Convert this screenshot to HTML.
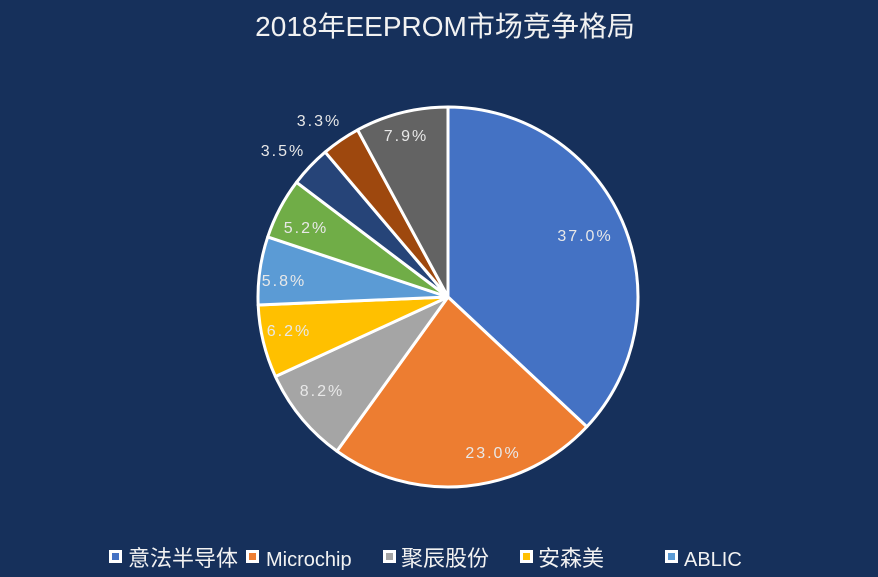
<!DOCTYPE html>
<html><head><meta charset="utf-8"><style>
body{margin:0;width:878px;height:572px;background:#16305b;overflow:hidden;font-family:"Liberation Sans","Noto Sans CJK SC",sans-serif}
</style></head><body>
<svg id="s" width="878" height="572" xmlns="http://www.w3.org/2000/svg">
<rect width="878" height="572" fill="#16305b"/>
<text x="445" y="36" text-anchor="middle" fill="#f2f2f2" font-size="28" font-family="Liberation Sans, Noto Sans CJK SC, sans-serif">2018年EEPROM市场竞争格局</text>
<g id="pie"></g>
<g fill="#e8e8e8" font-size="16" letter-spacing="2" text-anchor="middle" font-family="Liberation Sans, sans-serif">
<text x="585" y="241">37.0%</text>
<text x="493" y="458">23.0%</text>
<text x="322" y="396">8.2%</text>
<text x="289" y="336">6.2%</text>
<text x="284" y="286">5.8%</text>
<text x="306" y="233">5.2%</text>
<text x="283" y="156">3.5%</text>
<text x="319" y="126">3.3%</text>
<text x="406" y="141">7.9%</text>
</g>
<g font-size="20" fill="#f2f2f2" font-family="Liberation Sans, Noto Sans CJK SC, sans-serif">
<rect x="109" y="550" width="13" height="13" fill="#fff"/><rect x="112" y="553" width="7" height="7" fill="#4472c4"/>
<text x="128" y="566" font-size="22">意法半导体</text>
<rect x="246" y="550" width="13" height="13" fill="#fff"/><rect x="249" y="553" width="7" height="7" fill="#ed7d31"/>
<text x="266" y="566">Microchip</text>
<rect x="383" y="550" width="13" height="13" fill="#fff"/><rect x="386" y="553" width="7" height="7" fill="#a5a5a5"/>
<text x="401" y="566" font-size="22">聚辰股份</text>
<rect x="520" y="550" width="13" height="13" fill="#fff"/><rect x="523" y="553" width="7" height="7" fill="#ffc000"/>
<text x="538" y="566" font-size="22">安森美</text>
<rect x="665" y="550" width="13" height="13" fill="#fff"/><rect x="668" y="553" width="7" height="7" fill="#5b9bd5"/>
<text x="684" y="566">ABLIC</text>
</g>
</svg>
<script>
var d=[[37.0,"#4472c4"],[23.0,"#ed7d31"],[8.2,"#a5a5a5"],[6.2,"#ffc000"],[5.8,"#5b9bd5"],[5.2,"#70ad47"],[3.5,"#264478"],[3.3,"#9e480e"],[7.9,"#636363"]];
var tot=0;d.forEach(function(x){tot+=x[0]});
var cx=448,cy=297,r=190,a=0,h="";
d.forEach(function(x){
 var a2=a+x[0]/tot*2*Math.PI;
 var x1=cx+r*Math.sin(a),y1=cy-r*Math.cos(a),x2=cx+r*Math.sin(a2),y2=cy-r*Math.cos(a2);
 h+='<path d="M'+cx+','+cy+'L'+x1+','+y1+'A'+r+','+r+' 0 '+((a2-a)>Math.PI?1:0)+' 1 '+x2+','+y2+'Z" fill="'+x[1]+'" stroke="#fff" stroke-width="3" stroke-linejoin="round"/>';
 a=a2;});
document.getElementById("pie").innerHTML=h;
</script>
</body></html>
